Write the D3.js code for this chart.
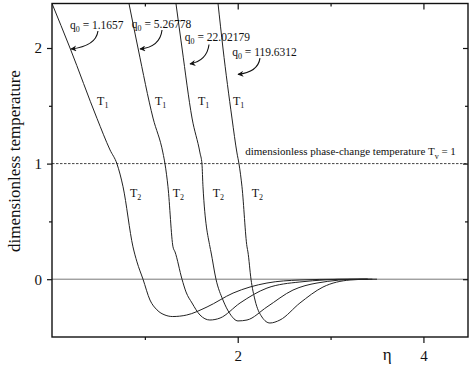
<!DOCTYPE html>
<html>
<head>
<meta charset="utf-8">
<script src="https://cdn.jsdelivr.net/npm/d3@7"></script>
<style>
  body { margin: 0; background: #fff; }
  svg { display: block; }
  text { font-family: 'Liberation Serif', 'Times New Roman', serif; fill: #111; }
</style>
</head>
<body>
<div id="chart"></div>
<script>
const WIDTH = 474;
const HEIGHT = 365;
const margin = { top: 3.5, right: 6, bottom: 28, left: 52 };

// eta values and dimensionless temperature for each q0
const q0Labels = ['1.1657', '5.26778', '22.02179', '119.6312'];

const eta1 = [0, 0.194, 0.485, 0.625, 0.70, 0.765, 0.872, 0.915, 0.98, 1.055, 1.13, 1.217, 1.30, 1.45, 1.67, 1.95, 2.315, 2.67, 3.1, 3.4];
const temp1 = [2.385, 2.0, 1.39, 1.118, 0.997, 0.80, 0.28, 0.15, 0.0, -0.18, -0.265, -0.31, -0.323, -0.31, -0.24, -0.12, -0.033, -0.007, 0, 0];

const eta2 = [0.829, 0.926, 1.088, 1.195, 1.217, 1.249, 1.303, 1.325, 1.40, 1.443, 1.508, 1.594, 1.70, 1.81, 2.025, 2.315, 2.67, 3.21, 3.4];
const temp2 = [2.385, 2.0, 1.394, 1.092, 0.997, 0.80, 0.28, 0.236, 0, -0.11, -0.206, -0.31, -0.353, -0.336, -0.206, -0.077, -0.024, 0, 0];

const eta3 = [1.335, 1.40, 1.508, 1.594, 1.615, 1.626, 1.701, 1.712, 1.766, 1.841, 1.917, 2.003, 2.10, 2.315, 2.595, 2.854, 3.317, 3.45];
const temp3 = [2.385, 2.0, 1.394, 1.092, 0.997, 0.80, 0.28, 0.236, 0, -0.18, -0.30, -0.361, -0.353, -0.24, -0.094, -0.033, 0, 0];

const eta4 = [1.788, 1.841, 1.938, 1.992, 2.014, 2.046, 2.10, 2.11, 2.143, 2.186, 2.261, 2.347, 2.455, 2.67, 2.918, 3.21, 3.42, 3.5];
const temp4 = [2.385, 2.0, 1.394, 1.092, 0.997, 0.80, 0.28, 0.236, 0, -0.18, -0.327, -0.379, -0.353, -0.206, -0.068, -0.007, 0, 0];

const etaSeries = [eta1, eta2, eta3, eta4];
const tempSeries = [temp1, temp2, temp3, temp4];

const xMajorTicks = [2, 4];
const xMinorTicks = [1, 3];
const yMajorTicks = [0, 1, 2];
const yMinorTicks = [0.5, 1.5];

const phaseChangeTemp = 1;

// annotation anchors in data space: label [eta, T], arrow start / control / end
const qLabelPos = [[0.194, 2.165], [0.86, 2.175], [1.43, 2.06], [1.94, 1.935]];
const arrowStart = [[0.495, 2.147], [1.185, 2.156], [1.691, 2.03], [2.24, 1.912]];
const arrowCtrl = [[0.474, 2.017], [1.163, 2.009], [1.669, 1.89], [2.218, 1.79]];
const arrowEnd = [[0.205, 1.991], [0.948, 1.991], [1.486, 1.862], [2.003, 1.772]];
const t1Pos = [[0.485, 1.507], [1.109, 1.507], [1.572, 1.507], [1.949, 1.507]];
const t2Pos = [[0.84, 0.71], [1.30, 0.71], [1.73, 0.71], [2.15, 0.71]];

const innerW = WIDTH - margin.left - margin.right;
const innerH = HEIGHT - margin.top - margin.bottom;

const svg = d3.select('#chart')
  .append('svg')
  .attr('width', WIDTH)
  .attr('height', HEIGHT)
  .append('g')
  .attr('transform', `translate(${margin.left}, ${margin.top})`);

const x = d3.scaleLinear().domain([0, 4.48]).range([0, innerW]);
const y = d3.scaleLinear().domain([-0.5, 2.385]).range([innerH, 0]);

// arrow marker
svg.append('defs')
  .append('marker')
  .attr('id', 'head')
  .attr('viewBox', '0 0 10 10')
  .attr('refX', 9)
  .attr('refY', 5)
  .attr('markerWidth', 7)
  .attr('markerHeight', 6)
  .attr('markerUnits', 'userSpaceOnUse')
  .attr('orient', 'auto')
  .append('path')
  .attr('d', 'M0,0 L10,5 L0,10 L3,5 Z')
  .attr('fill', '#111');

// clip for curves
svg.append('clipPath')
  .attr('id', 'clip')
  .append('rect')
  .attr('width', innerW)
  .attr('height', innerH);

// zero line
svg.append('line')
  .attr('x1', 0)
  .attr('x2', innerW)
  .attr('y1', y(0))
  .attr('y2', y(0))
  .attr('stroke', '#777')
  .attr('stroke-width', 1);

// phase change line
svg.append('line')
  .attr('x1', 0)
  .attr('x2', innerW)
  .attr('y1', y(phaseChangeTemp))
  .attr('y2', y(phaseChangeTemp))
  .attr('stroke', '#444')
  .attr('stroke-width', 1)
  .attr('stroke-dasharray', '2.5,1.5');

// curves
const line = d3.line()
  .x((d) => x(d[0]))
  .y((d) => y(d[1]))
  .curve(d3.curveMonotoneX);

etaSeries.forEach((etas, i) => {
  const pts = etas.map((e, j) => [e, tempSeries[i][j]]);
  svg.append('path')
    .datum(pts)
    .attr('clip-path', 'url(#clip)')
    .attr('fill', 'none')
    .attr('stroke', '#222')
    .attr('stroke-width', 1)
    .attr('d', line);
});

// axes
svg.append('g')
  .attr('transform', `translate(0, ${innerH})`)
  .call(d3.axisBottom(x).tickValues(xMajorTicks).tickSize(6).tickPadding(7).tickFormat(d3.format('d')));
svg.append('g')
  .attr('transform', `translate(0, ${innerH})`)
  .call(d3.axisBottom(x).tickValues(xMinorTicks).tickSize(3).tickFormat(''));
svg.append('g')
  .call(d3.axisTop(x).tickValues(xMajorTicks).tickSize(-6).tickFormat(''));
svg.append('g')
  .call(d3.axisTop(x).tickValues(xMinorTicks).tickSize(-3).tickFormat(''));

svg.append('g')
  .call(d3.axisLeft(y).tickValues(yMajorTicks).tickSize(5).tickPadding(5).tickFormat(d3.format('d')));
svg.append('g')
  .call(d3.axisLeft(y).tickValues(yMinorTicks).tickSize(3).tickFormat(''));
svg.append('g')
  .attr('transform', `translate(${innerW}, 0)`)
  .call(d3.axisRight(y).tickValues(yMajorTicks).tickSize(-5).tickFormat(''));
svg.append('g')
  .attr('transform', `translate(${innerW}, 0)`)
  .call(d3.axisRight(y).tickValues(yMinorTicks).tickSize(-3).tickFormat(''));

svg.selectAll('.domain').remove();
svg.selectAll('.tick line').attr('stroke', '#111').attr('stroke-width', 1.2);
svg.selectAll('.tick text')
  .style('font-family', "'Liberation Serif', serif")
  .style('font-size', '15px')
  .attr('fill', '#111');

// frame
svg.append('rect')
  .attr('width', innerW)
  .attr('height', innerH)
  .attr('fill', 'none')
  .attr('stroke', '#111')
  .attr('stroke-width', 1.4);

// axis titles
svg.append('text')
  .attr('transform', `translate(${20 - margin.left}, ${161 - margin.top}) rotate(-90)`)
  .attr('text-anchor', 'middle')
  .style('font-size', '17px')
  .text('dimensionless temperature');

svg.append('text')
  .attr('x', x(3.61))
  .attr('y', innerH + 23)
  .attr('text-anchor', 'middle')
  .style('font-size', '17px')
  .text('η');

// q0 labels with arrows
q0Labels.forEach((q, i) => {
  const t = svg.append('text')
    .attr('x', x(qLabelPos[i][0]))
    .attr('y', y(qLabelPos[i][1]))
    .style('font-size', '11.5px');
  t.append('tspan').text('q');
  t.append('tspan').attr('dy', 3).style('font-size', '8px').text('0');
  t.append('tspan').attr('dy', -3).text(` = ${q}`);

  const s = arrowStart[i];
  const c = arrowCtrl[i];
  const e = arrowEnd[i];
  svg.append('path')
    .attr('d', `M${x(s[0])},${y(s[1])} Q${x(c[0])},${y(c[1])} ${x(e[0])},${y(e[1])}`)
    .attr('fill', 'none')
    .attr('stroke', '#111')
    .attr('stroke-width', 1.1)
    .attr('marker-end', 'url(#head)');
});

// T1 / T2 labels
function phaseLabel(pos, sub) {
  const t = svg.append('text')
    .attr('x', x(pos[0]))
    .attr('y', y(pos[1]))
    .style('font-size', '12px');
  t.append('tspan').text('T');
  t.append('tspan').attr('dy', 3).style('font-size', '8px').text(sub);
}
t1Pos.forEach((p) => phaseLabel(p, '1'));
t2Pos.forEach((p) => phaseLabel(p, '2'));

// phase change annotation
const pc = svg.append('text')
  .attr('x', x(2.08))
  .attr('y', y(1.074))
  .style('font-size', '11px');
pc.append('tspan').text('dimensionless phase-change temperature T');
pc.append('tspan').attr('dy', 4).style('font-size', '8px').text('v');
pc.append('tspan').attr('dy', -4).text(' = 1');
</script>
</body>
</html>
